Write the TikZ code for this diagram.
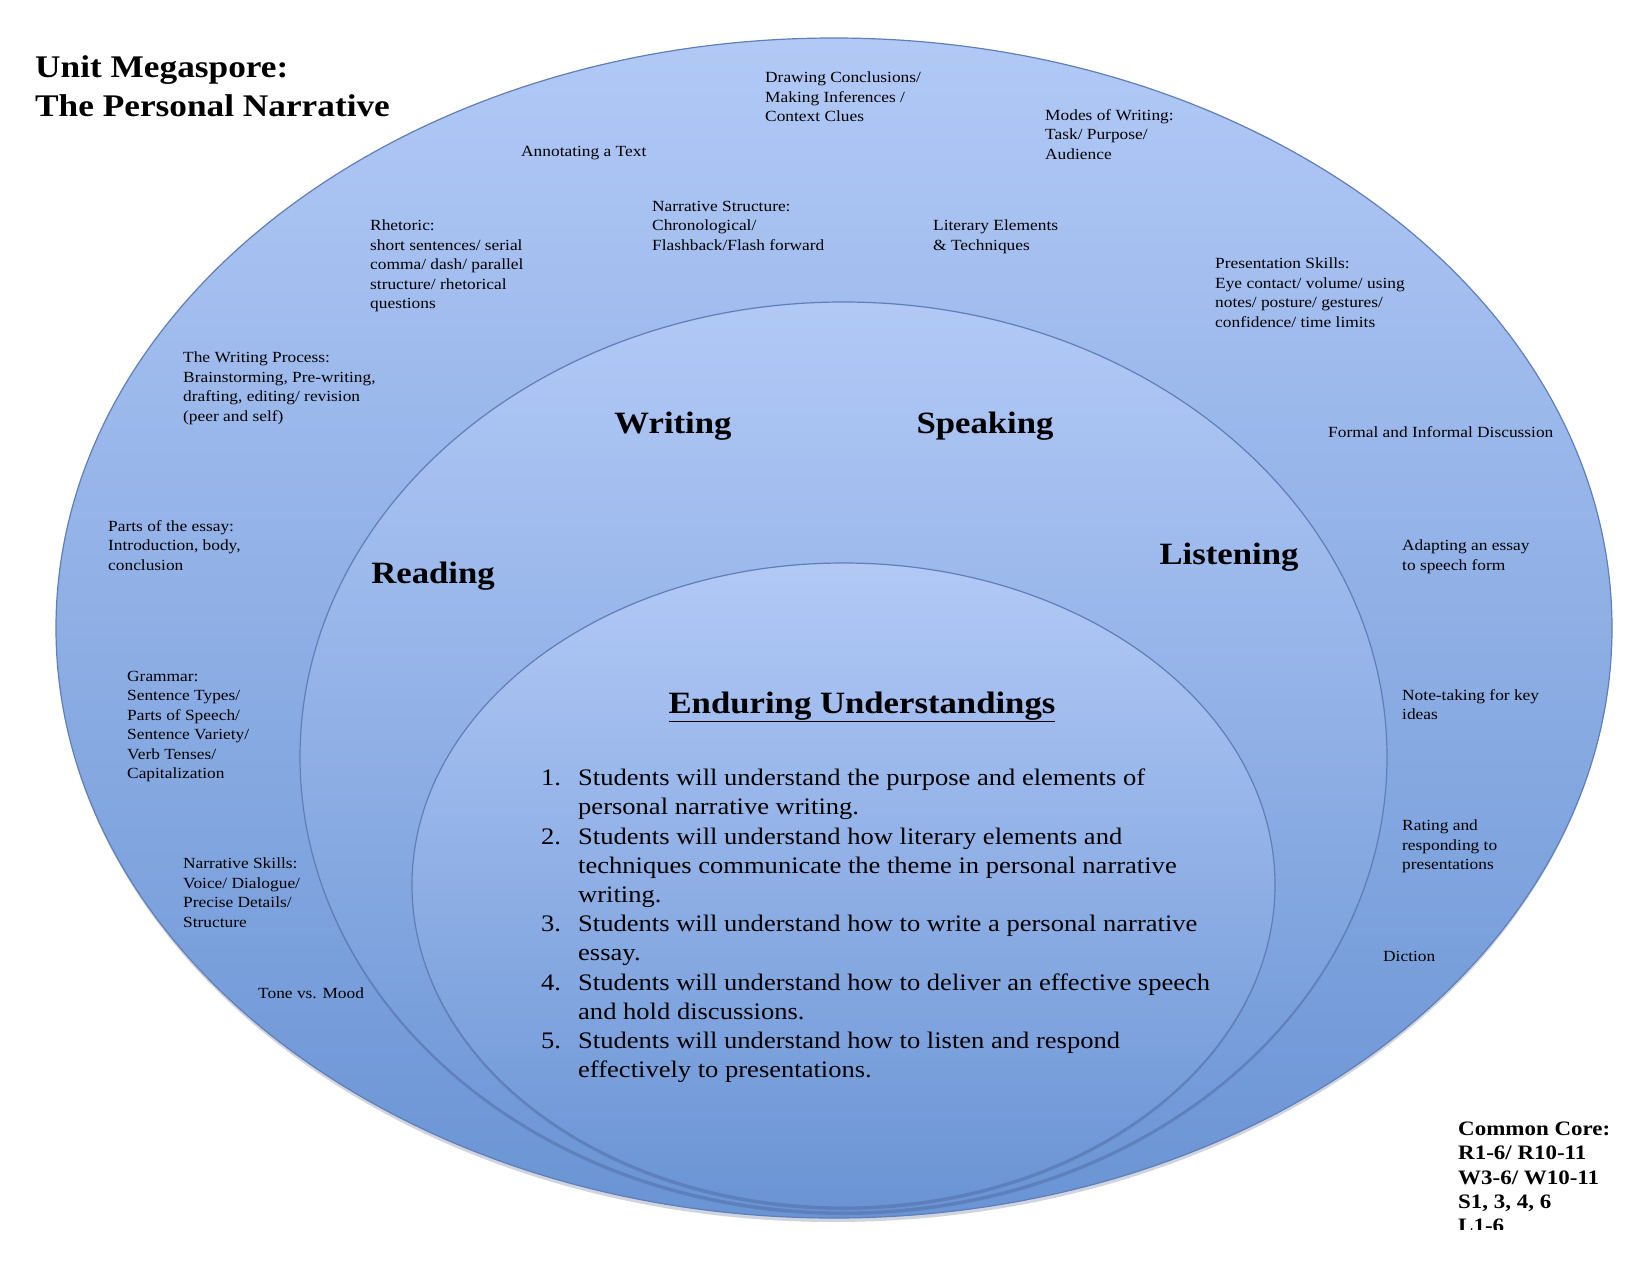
\documentclass[tikz,border=0pt]{standalone}
\usepackage{fontspec}
\setmainfont{Liberation Serif}[FakeStretch=1.12]

\definecolor{ovaltop}{RGB}{178,201,246}
\definecolor{ovalbot}{RGB}{106,148,212}
\definecolor{ovaledge}{RGB}{96,126,184}
\definecolor{shadowc}{RGB}{40,60,110}

\tikzset{
  oval/.style={top color=ovaltop, bottom color=ovalbot, draw=ovaledge, line width=1.2pt},
  ovalshadow/.style={fill=shadowc, opacity=0.22},
  smalltxt/.style={anchor=north west, inner sep=0pt, align=left, font=\fontsize{15.5}{19.5}\selectfont},
  bigtxt/.style={inner sep=0pt, font=\bfseries\fontsize{31}{36}\selectfont},
  listtxt/.style={anchor=north west, inner sep=0pt, font=\fontsize{23.7}{29.2}\selectfont},
}

\begin{document}
\begin{tikzpicture}[x=1pt, y=-1pt]
    \useasboundingbox (0,0) rectangle (1650,1275);

    % outer oval
    \fill[ovalshadow] (834,632) ellipse [x radius=777pt, y radius=590pt];
    \shade[oval] (834,628) ellipse [x radius=778pt, y radius=590pt];
    % middle oval
    \fill[ovalshadow] (843.5,760) ellipse [x radius=543pt, y radius=455pt];
    \shade[oval] (843.5,757) ellipse [x radius=543.5pt, y radius=455pt];
    % inner oval
    \fill[ovalshadow] (843.5,888) ellipse [x radius=431pt, y radius=322pt];
    \shade[oval] (843.5,885) ellipse [x radius=431.5pt, y radius=322pt];

    % title
    \node[anchor=north west, inner sep=0pt, align=left, font=\bfseries\fontsize{31.5}{39}\selectfont]
        (title) at (35,55) {Unit Megaspore:\\The Personal Narrative};

    % outer ring topics
    \node[smalltxt] (annot) at (521,146) {Annotating a Text};
    \node[smalltxt] (drawconc) at (765,72) {Drawing Conclusions/\\Making Inferences /\\Context Clues};
    \node[smalltxt] (modes) at (1045,109) {Modes of Writing:\\Task/ Purpose/\\Audience};
    \node[smalltxt] (rhet) at (370,220) {Rhetoric:\\short sentences/ serial\\comma/ dash/ parallel\\structure/ rhetorical\\questions};
    \node[smalltxt] (narrstruct) at (652,201) {Narrative Structure:\\Chronological/\\Flashback/Flash forward};
    \node[smalltxt] (litel) at (933,220) {Literary Elements\\\& Techniques};
    \node[smalltxt] (pres) at (1215,258) {Presentation Skills:\\Eye contact/ volume/ using\\notes/ posture/ gestures/\\confidence/ time limits};
    \node[smalltxt] (wproc) at (183,352) {The Writing Process:\\Brainstorming, Pre-writing,\\drafting, editing/ revision\\(peer and self)};
    \node[smalltxt] (formal) at (1328,426) {Formal and Informal Discussion};
    \node[smalltxt] (parts) at (108,520) {Parts of the essay:\\Introduction, body,\\conclusion};
    \node[smalltxt] (adapt) at (1402,540) {Adapting an essay\\to speech form};
    \node[smalltxt] (gram) at (127,671) {Grammar:\\Sentence Types/\\Parts of Speech/\\Sentence Variety/\\Verb Tenses/\\Capitalization};
    \node[smalltxt] (notes) at (1402,689) {Note-taking for key\\ideas};
    \node[smalltxt] (rating) at (1402,820) {Rating and\\responding to\\presentations};
    \node[smalltxt] (nskill) at (183,858) {Narrative Skills:\\Voice/ Dialogue/\\Precise Details/\\Structure};
    \node[smalltxt] (diction) at (1383,951) {Diction};
    \node[smalltxt] (tone) at (258,988) {Tone vs. Mood};

    % middle ring skills
    \node[bigtxt] (writing) at (673,426) {Writing};
    \node[bigtxt] (speaking) at (985,426) {Speaking};
    \node[bigtxt] (reading) at (433,576) {Reading};
    \node[bigtxt] (listening) at (1229,557) {Listening};

    % inner oval
    \node[bigtxt] (enduring) at (862,707) {\underline{Enduring Understandings}};
    \node[listtxt] (eulist) at (541,765) {%
      \begin{tabular}{@{}p{37pt}@{}l@{}}
      1. & Students will understand the purpose and elements of\\
         & personal narrative writing.\\
      2. & Students will understand how literary elements and\\
         & techniques communicate the theme in personal narrative\\
         & writing.\\
      3. & Students will understand how to write a personal narrative\\
         & essay.\\
      4. & Students will understand how to deliver an effective speech\\
         & and hold discussions.\\
      5. & Students will understand how to listen and respond\\
         & effectively to presentations.
      \end{tabular}};

    % standards, cut off at the box edge
    \begin{scope}
        \clip (1440,1100) rectangle (1650,1229);
        \node[anchor=north west, inner sep=0pt, align=left, font=\bfseries\fontsize{20.5}{24.2}\selectfont]
            (core) at (1458,1122) {Common Core:\\R1-6/ R10-11\\W3-6/ W10-11\\S1, 3, 4, 6\\L1-6};
    \end{scope}
\end{tikzpicture}
\end{document}
